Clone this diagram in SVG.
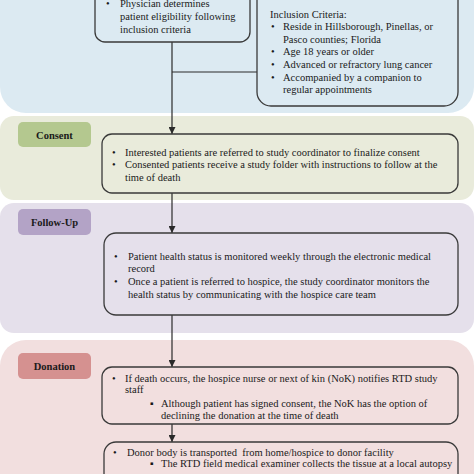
<svg xmlns="http://www.w3.org/2000/svg" width="474" height="474" viewBox="0 0 474 474">
<defs>
<style>
text{font-family:"Liberation Serif","Times New Roman",serif;font-size:10.5px;fill:#1a1a1a}
.lbl{font-weight:bold;font-size:10.5px;text-anchor:middle}
.box{fill:none;stroke:#3a3a3a;stroke-width:1.3}
.con{stroke:#2a2a2a;stroke-width:1.2;fill:none}
</style>
<marker id="ah" viewBox="0 0 10 10" refX="10" refY="5" markerWidth="7" markerHeight="7" markerUnits="userSpaceOnUse" orient="auto">
<path d="M0,0 L10,5 L0,10 z" fill="#2a2a2a"/>
</marker>
</defs>
<rect width="474" height="474" fill="#ffffff"/>
<!-- panels -->
<g id="panel-screening"><rect x="0" y="-40" width="474" height="153" rx="26" fill="#dceaf2"/></g>
<g id="panel-consent"><rect x="0" y="116" width="474" height="84" rx="14" fill="#e9ebdb"/>
<rect x="18" y="122" width="73" height="25" rx="5" fill="#b4c88f"/><text class="lbl" x="54.5" y="138.5">Consent</text></g>
<g id="panel-followup"><rect x="0" y="203" width="474" height="130" rx="14" fill="#e5e0eb"/>
<rect x="18" y="209" width="73" height="26" rx="5" fill="#b3a3c6"/><text class="lbl" x="54.5" y="226">Follow-Up</text></g>
<g id="panel-donation"><rect x="0" y="340" width="474" height="160" rx="26" fill="#f2dfdf"/>
<rect x="18" y="353" width="73" height="26" rx="5" fill="#d59190"/><text class="lbl" x="54.5" y="370">Donation</text></g>
<!-- connectors -->
<g id="connectors">
<path class="con" d="M172,42 V134" marker-end="url(#ah)"/>
<path class="con" d="M172,72 H257"/>
<path class="con" d="M172,193 V233" marker-end="url(#ah)"/>
<path class="con" d="M172,315 V367" marker-end="url(#ah)"/>
<path class="con" d="M172,424 V442" marker-end="url(#ah)"/>
</g>
<!-- nodes -->
<g id="node-physician">
<rect class="box" x="95" y="-20" width="155" height="62" rx="10"/>
<text x="106" y="7">•</text><text x="120" y="7">Physician determines</text>
<text x="120" y="20">patient eligibility following</text>
<text x="120" y="33">inclusion criteria</text>
</g>
<g id="node-criteria">
<rect class="box" x="257" y="-20" width="201" height="126" rx="14"/>
<text x="270" y="18">Inclusion Criteria:</text>
<text x="271" y="30">•</text><text x="283" y="30">Reside in Hillsborough, Pinellas, or</text>
<text x="283" y="42.5">Pasco counties; Florida</text>
<text x="271" y="55">•</text><text x="283" y="55">Age 18 years or older</text>
<text x="271" y="68">•</text><text x="283" y="68">Advanced or refractory lung cancer</text>
<text x="271" y="80.5">•</text><text x="283" y="80.5">Accompanied by a companion to</text>
<text x="283" y="93">regular appointments</text>
</g>
<g id="node-consent">
<rect class="box" x="102" y="134" width="356" height="59" rx="10"/>
<text x="112" y="155.5">•</text><text x="125" y="155.5">Interested patients are referred to study coordinator to finalize consent</text>
<text x="112" y="168">•</text><text x="125" y="168">Consented patients receive a study folder with instructions to follow at the</text>
<text x="125" y="180.5">time of death</text>
</g>
<g id="node-followup">
<rect class="box" x="104" y="233" width="354" height="82" rx="12"/>
<text x="114" y="259.5">•</text><text x="128" y="259.5">Patient health status is monitored weekly through the electronic medical</text>
<text x="128" y="272">record</text>
<text x="114" y="285">•</text><text x="128" y="285">Once a patient is referred to hospice, the study coordinator monitors the</text>
<text x="128" y="297.5">health status by communicating with the hospice care team</text>
</g>
<g id="node-donation1">
<rect class="box" x="102" y="367" width="356" height="57" rx="10"/>
<text x="112" y="381.5">•</text><text x="125" y="381.5">If death occurs, the hospice nurse or next of kin (NoK) notifies RTD study</text>
<text x="125" y="393">staff</text>
<text x="150" y="406.5">▪</text><text x="161" y="406.5">Although patient has signed consent, the NoK has the option of</text>
<text x="161" y="418.5">declining the donation at the time of death</text>
</g>
<g id="node-donation2">
<rect class="box" x="104" y="442" width="354" height="60" rx="12"/>
<text x="113" y="455.5">•</text><text x="127" y="455.5">Donor body is transported&#160; from home/hospice to donor facility</text>
<text x="150" y="467">▪</text><text x="161" y="467">The RTD field medical examiner collects the tissue at a local autopsy</text>
</g>
</svg>
